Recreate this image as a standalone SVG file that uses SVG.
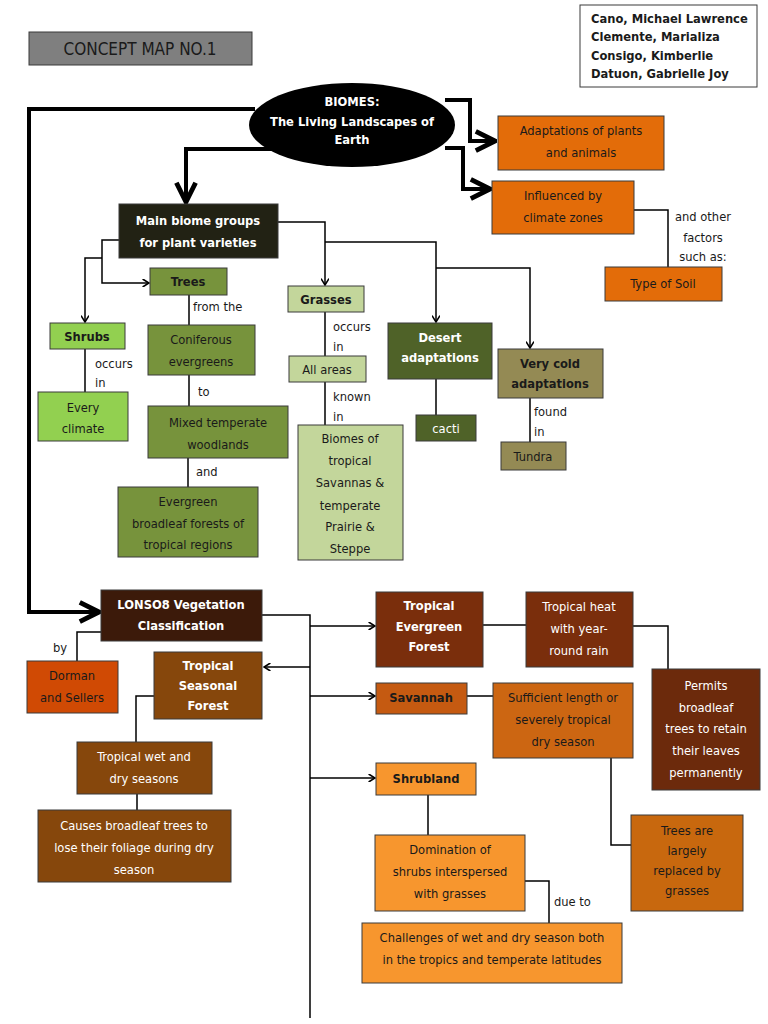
<svg xmlns="http://www.w3.org/2000/svg" width="768" height="1024" viewBox="0 0 768 1024">
<style>
text{font-family:"DejaVu Sans Condensed","Liberation Sans Narrow","Liberation Sans",sans-serif;font-size:12.8px;fill:#1a1a1a;text-anchor:middle}
.w{fill:#fff}.b{font-weight:bold}.l{text-anchor:start}
rect{stroke:#3a3a3a;stroke-width:1}
.c{fill:none;stroke:#000;stroke-width:1.5}
.t{fill:none;stroke:#000;stroke-width:4}
</style>
<defs>
<marker id="a" viewBox="0 0 10 10" refX="9" refY="5" markerWidth="8" markerHeight="8" markerUnits="userSpaceOnUse" orient="auto"><path d="M1,0 L9,5 L1,10" fill="none" stroke="#000" stroke-width="2"/></marker>
<marker id="A" viewBox="0 0 10 10" refX="9" refY="5" markerWidth="6" markerHeight="6" orient="auto"><path d="M1,1 L9,5 L1,9" fill="none" stroke="#000" stroke-width="2"/></marker>
</defs>
<g id="connectors">
<path class="t" d="M255,109 H29 V612 H99" marker-end="url(#A)"/>
<path class="t" d="M445,100 H470 V141 H495" marker-end="url(#A)"/>
<path class="t" d="M445,148 H463 V189 H490" marker-end="url(#A)"/>
<path class="t" d="M275,149 H186 V202" marker-end="url(#A)"/>
<path class="c" d="M278,222 H325 V285" marker-end="url(#a)"/>
<path class="c" d="M325,242 H436 V322" marker-end="url(#a)"/>
<path class="c" d="M436,268 H530 V348" marker-end="url(#a)"/>
<path class="c" d="M119,240 H102 V283 H149" marker-end="url(#a)"/>
<path class="c" d="M102,258 H85 V322" marker-end="url(#a)"/>
<path class="c" d="M189,295 V325 M189,375 V406 M188,458 V487 M85,349 V392 M325,312 V356 M325,382 V425 M436,379 V415 M530,398 V442"/>
<path class="c" d="M634,210 H668 V267"/>
<path class="c" d="M262,615 H310 V1018"/>
<path class="c" d="M310,626 H375" marker-end="url(#a)"/>
<path class="c" d="M310,667 H264" marker-end="url(#a)"/>
<path class="c" d="M310,696 H375" marker-end="url(#a)"/>
<path class="c" d="M310,778 H375" marker-end="url(#a)"/>
<path class="c" d="M101,632 H77 V661 M154,696 H136 V742 M137,794 V810"/>
<path class="c" d="M483,625 H526 M633,626 H668 V669 M467,696 H493 M611,758 V845 H631 M428,795 V835 M525,881 H549 V923"/>
</g>
<g id="title"><rect x="29" y="32" width="223" height="33" fill="#7f7f7f"/><text x="140" y="55" style="font-size:17px">CONCEPT MAP NO.1</text></g>
<g id="authors"><rect x="580" y="5" width="177" height="82" fill="#fff" stroke="#000"/>
<text class="l b" x="591" y="23">Cano, Michael Lawrence</text><text class="l b" x="591" y="41">Clemente, Marializa</text><text class="l b" x="591" y="60">Consigo, Kimberlie</text><text class="l b" x="591" y="78">Datuon, Gabrielle Joy</text></g>
<g id="biomes"><ellipse cx="352" cy="125" rx="103" ry="42" fill="#000"/>
<text class="w b" x="352" y="106">BIOMES:</text><text class="w b" x="352" y="126">The Living Landscapes of</text><text class="w b" x="352" y="144">Earth</text></g>
<g id="adapt"><rect x="498" y="116" width="166" height="54" fill="#e36c09"/><text x="581" y="135">Adaptations of plants</text><text x="581" y="157">and animals</text></g>
<g id="influenced"><rect x="492" y="181" width="142" height="53" fill="#e36c09"/><text x="563" y="200">Influenced by</text><text x="563" y="222">climate zones</text></g>
<text x="703" y="221">and other</text><text x="703" y="242">factors</text><text x="703" y="261">such as:</text>
<g id="soil"><rect x="605" y="267" width="117" height="34" fill="#e36c09"/><text x="663" y="288">Type of Soil</text></g>
<g id="main"><rect x="119" y="204" width="159" height="54" fill="#222214"/><text class="w b" x="198" y="225">Main biome groups</text><text class="w b" x="198" y="247">for plant varieties</text></g>
<g id="trees"><rect x="150" y="268" width="77" height="27" fill="#77933c"/><text class="b" x="188" y="286">Trees</text></g>
<text class="l" x="193" y="311">from the</text>
<g id="conif"><rect x="148" y="325" width="107" height="50" fill="#77933c"/><text x="201" y="344">Coniferous</text><text x="201" y="366">evergreens</text></g>
<text class="l" x="198" y="396">to</text>
<g id="mixed"><rect x="148" y="406" width="140" height="52" fill="#77933c"/><text x="218" y="427">Mixed temperate</text><text x="218" y="449">woodlands</text></g>
<text class="l" x="196" y="476">and</text>
<g id="evergreen"><rect x="118" y="487" width="140" height="70" fill="#77933c"/><text x="188" y="506">Evergreen</text><text x="188" y="528">broadleaf forests of</text><text x="188" y="549">tropical regions</text></g>
<g id="shrubs"><rect x="50" y="323" width="75" height="26" fill="#92d050"/><text class="b" x="87" y="341">Shrubs</text></g>
<text class="l" x="95" y="368">occurs</text><text class="l" x="95" y="387">in</text>
<g id="every"><rect x="38" y="392" width="90" height="49" fill="#92d050"/><text x="83" y="412">Every</text><text x="83" y="433">climate</text></g>
<g id="grasses"><rect x="288" y="286" width="76" height="26" fill="#c3d69b"/><text class="b" x="326" y="304">Grasses</text></g>
<text class="l" x="333" y="331">occurs</text><text class="l" x="333" y="351">in</text>
<g id="allareas"><rect x="289" y="356" width="77" height="26" fill="#c3d69b"/><text x="327" y="374">All areas</text></g>
<text class="l" x="333" y="401">known</text><text class="l" x="333" y="421">in</text>
<g id="biomesof"><rect x="298" y="425" width="105" height="135" fill="#c3d69b"/><text x="350" y="443">Biomes of</text><text x="350" y="465">tropical</text><text x="350" y="487">Savannas &amp;</text><text x="350" y="510">temperate</text><text x="350" y="531">Prairie &amp;</text><text x="350" y="553">Steppe</text></g>
<g id="desert"><rect x="388" y="323" width="104" height="56" fill="#4f6228"/><text class="w b" x="440" y="342">Desert</text><text class="w b" x="440" y="362">adaptations</text></g>
<g id="cacti"><rect x="416" y="415" width="60" height="26" fill="#4f6228"/><text class="w" x="446" y="433">cacti</text></g>
<g id="cold"><rect x="498" y="349" width="105" height="49" fill="#948a54"/><text class="b" x="550" y="368">Very cold</text><text class="b" x="550" y="388">adaptations</text></g>
<text class="l" x="534" y="416">found</text><text class="l" x="534" y="436">in</text>
<g id="tundra"><rect x="501" y="442" width="65" height="28" fill="#948a54"/><text x="533" y="461">Tundra</text></g>
<g id="lons"><rect x="101" y="590" width="161" height="51" fill="#3c1a0a"/><text class="w b" x="181" y="609">LONSO8 Vegetation</text><text class="w b" x="181" y="630">Classification</text></g>
<text x="60" y="652">by</text>
<g id="dorman"><rect x="27" y="661" width="91" height="52" fill="#d04a04"/><text x="72" y="680">Dorman</text><text x="72" y="702">and Sellers</text></g>
<g id="seasonal"><rect x="154" y="652" width="108" height="67" fill="#86470c"/><text class="w b" x="208" y="670">Tropical</text><text class="w b" x="208" y="690">Seasonal</text><text class="w b" x="208" y="710">Forest</text></g>
<g id="wetdry"><rect x="77" y="742" width="135" height="52" fill="#86470c"/><text class="w" x="144" y="761">Tropical wet and</text><text class="w" x="144" y="783">dry seasons</text></g>
<g id="causes"><rect x="38" y="810" width="193" height="72" fill="#86470c"/><text class="w" x="134" y="830">Causes broadleaf trees to</text><text class="w" x="134" y="852">lose their foliage during dry</text><text class="w" x="134" y="874">season</text></g>
<g id="tef"><rect x="376" y="592" width="107" height="75" fill="#7a2e0c"/><text class="w b" x="429" y="610">Tropical</text><text class="w b" x="429" y="631">Evergreen</text><text class="w b" x="429" y="651">Forest</text></g>
<g id="heat"><rect x="526" y="592" width="107" height="75" fill="#7a2e0c"/><text class="w" x="579" y="611">Tropical heat</text><text class="w" x="579" y="633">with year-</text><text class="w" x="579" y="655">round rain</text></g>
<g id="permits"><rect x="652" y="669" width="108" height="121" fill="#6c2a0c"/><text class="w" x="706" y="690">Permits</text><text class="w" x="706" y="712">broadleaf</text><text class="w" x="706" y="733">trees to retain</text><text class="w" x="706" y="755">their leaves</text><text class="w" x="706" y="777">permanently</text></g>
<g id="savannah"><rect x="376" y="683" width="91" height="31" fill="#c55a11"/><text class="b" x="421" y="702">Savannah</text></g>
<g id="sufficient"><rect x="493" y="683" width="140" height="75" fill="#cc6612"/><text x="563" y="702">Sufficient length or</text><text x="563" y="724">severely tropical</text><text x="563" y="746">dry season</text></g>
<g id="treesare"><rect x="631" y="815" width="112" height="96" fill="#c8680e"/><text x="687" y="835">Trees are</text><text x="687" y="855">largely</text><text x="687" y="875">replaced by</text><text x="687" y="895">grasses</text></g>
<g id="shrubland"><rect x="376" y="763" width="100" height="32" fill="#f7962e"/><text class="b" x="426" y="783">Shrubland</text></g>
<g id="domination"><rect x="375" y="835" width="150" height="76" fill="#f7962e"/><text x="450" y="854">Domination of</text><text x="450" y="876">shrubs interspersed</text><text x="450" y="898">with grasses</text></g>
<text class="l" x="554" y="906">due to</text>
<g id="challenges"><rect x="362" y="923" width="260" height="60" fill="#f7962e"/><text x="492" y="942">Challenges of wet and dry season both</text><text x="492" y="964">in the tropics and temperate latitudes</text></g>
</svg>
